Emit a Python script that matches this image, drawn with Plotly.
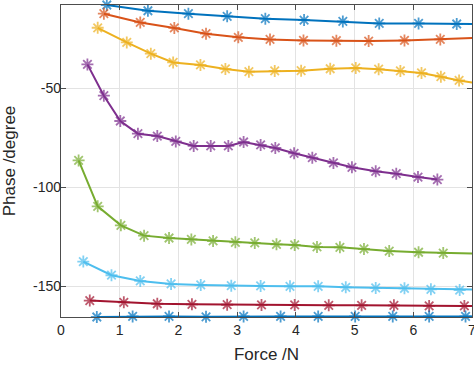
import plotly.graph_objects as go

# Data (Force /N vs Phase /degree)
x1 = [0.78, 1.48, 2.17, 2.83, 3.48, 4.14, 4.80, 5.42, 6.09, 6.74, 7.40]
y1 = [-7.9, -10.8, -12.3, -13.6, -14.8, -15.5, -16.2, -17.2, -17.2, -17.5, -17.6]

x2 = [0.73, 1.35, 1.93, 2.47, 3.02, 3.56, 4.13, 4.69, 5.24, 5.85, 6.46, 7.10]
y2 = [-12.3, -16.7, -19.5, -22.4, -24.2, -25.3, -25.8, -25.9, -26.1, -25.8, -25.3, -24.5]

x3 = [0.625, 1.12, 1.53, 1.91, 2.375, 2.80, 3.20, 3.64, 4.09, 4.585, 5.02, 5.41, 5.78, 6.14, 6.47, 6.78, 7.12]
y3 = [-19.4, -26.8, -32.5, -36.9, -38.2, -40.2, -41.6, -41.2, -41.1, -40.1, -39.7, -40.3, -41.2, -42.2, -44.1, -46.0, -47.6]

x4 = [0.45, 0.73, 1.01, 1.31, 1.64, 1.955, 2.26, 2.55, 2.85, 3.11, 3.40, 3.65, 3.97, 4.28, 4.64, 4.955, 5.36, 5.71, 6.08, 6.41]
y4 = [-37.9, -53.7, -66.5, -72.9, -74.1, -76.8, -79.1, -79.1, -79.1, -77.1, -78.6, -80.1, -82.8, -85.0, -87.7, -89.9, -91.9, -93.1, -94.8, -96.1]

x5 = [0.30, 0.625, 1.02, 1.415, 1.84, 2.22, 2.59, 2.97, 3.30, 3.67, 3.98, 4.36, 4.75, 5.16, 5.59, 6.09, 6.51, 7.05]
y5 = [-86.4, -109.6, -119.2, -124.4, -125.6, -126.3, -127.1, -127.8, -128.1, -128.8, -129.1, -130.1, -130.3, -131.1, -132.2, -132.8, -133.2, -133.5]

x6 = [0.38, 0.86, 1.35, 1.875, 2.38, 2.90, 3.40, 3.90, 4.38, 4.85, 5.36, 5.85, 6.30, 6.79, 7.30]
y6 = [-137.5, -144.4, -147.3, -148.8, -149.3, -149.7, -149.8, -150.0, -150.0, -150.5, -150.8, -151.0, -151.5, -151.9, -151.7]

x7 = [0.49, 1.07, 1.64, 2.23, 2.83, 3.415, 3.98, 4.56, 5.12, 5.67, 6.27, 6.87, 7.45]
y7 = [-157.2, -158.1, -158.8, -159.1, -159.3, -159.4, -159.4, -159.6, -159.6, -159.6, -159.9, -159.9, -160.3]

x8 = [0.61, 1.22, 1.84, 2.47, 3.11, 3.74, 4.38, 5.01, 5.65, 6.27, 6.89, 7.50]
y8 = [-165.5, -165.2, -165.2, -165.4, -165.2, -165.2, -165.2, -165.2, -165.2, -165.2, -165.2, -165.2]

series_x = [x1, x2, x3, x4, x5, x6, x7, x8]
series_y = [y1, y2, y3, y4, y5, y6, y7, y8]
colors = ["#0072BD", "#D95319", "#EDB120", "#7E2F8E", "#77AC30", "#4DBEEE", "#A2142F", "#0072BD"]

x_ticks = [0, 1, 2, 3, 4, 5, 6, 7]
y_ticks = [-150, -100, -50]
x_range = [0, 7]
y_range = [-165.5, -7.9]

fig = go.Figure()
for xs, ys, c in zip(series_x, series_y, colors):
    sizes = [10 if x_range[0] <= xv <= x_range[1] else 0 for xv in xs]
    fig.add_trace(go.Scatter(
        x=xs, y=ys, mode="lines+markers",
        line=dict(color=c, width=2),
        marker=dict(symbol="asterisk-open", size=sizes, color=c,
                    line=dict(color=c, width=1.8)),
        cliponaxis=False, showlegend=False, hoverinfo="skip",
    ))

axis_common = dict(
    showline=True, linecolor="#4d4d4d", linewidth=1.3, mirror="allticks",
    ticks="inside", ticklen=5, tickcolor="#4d4d4d", tickwidth=1,
    showgrid=True, gridcolor="#e3e3e3", gridwidth=1, zeroline=False,
    tickfont=dict(family="Liberation Sans, Arial", size=14, color="#262626"),
    ticklabeloverflow="allow",
    automargin=False,
)

fig.update_layout(
    width=474, height=367,
    margin=dict(l=61, r=2, t=5, b=50),
    paper_bgcolor="white", plot_bgcolor="white",
    xaxis=dict(range=x_range, tickvals=x_ticks, ticktext=[str(v) for v in x_ticks],
               title=dict(text="Force /N", standoff=11,
                          font=dict(family="Liberation Sans, Arial", size=17, color="#262626")),
               **axis_common),
    yaxis=dict(range=y_range, tickvals=y_ticks, ticktext=[str(v) for v in y_ticks],
               ticklabelstandoff=-4,
               title=dict(text="Phase /degree", standoff=14,
                          font=dict(family="Liberation Sans, Arial", size=17, color="#262626")),
               **axis_common),
)

fig.write_html(
    "out.html",
    config={"displayModeBar": False},
    post_script="document.body.style.margin='0';document.body.style.overflow='hidden';",
)
